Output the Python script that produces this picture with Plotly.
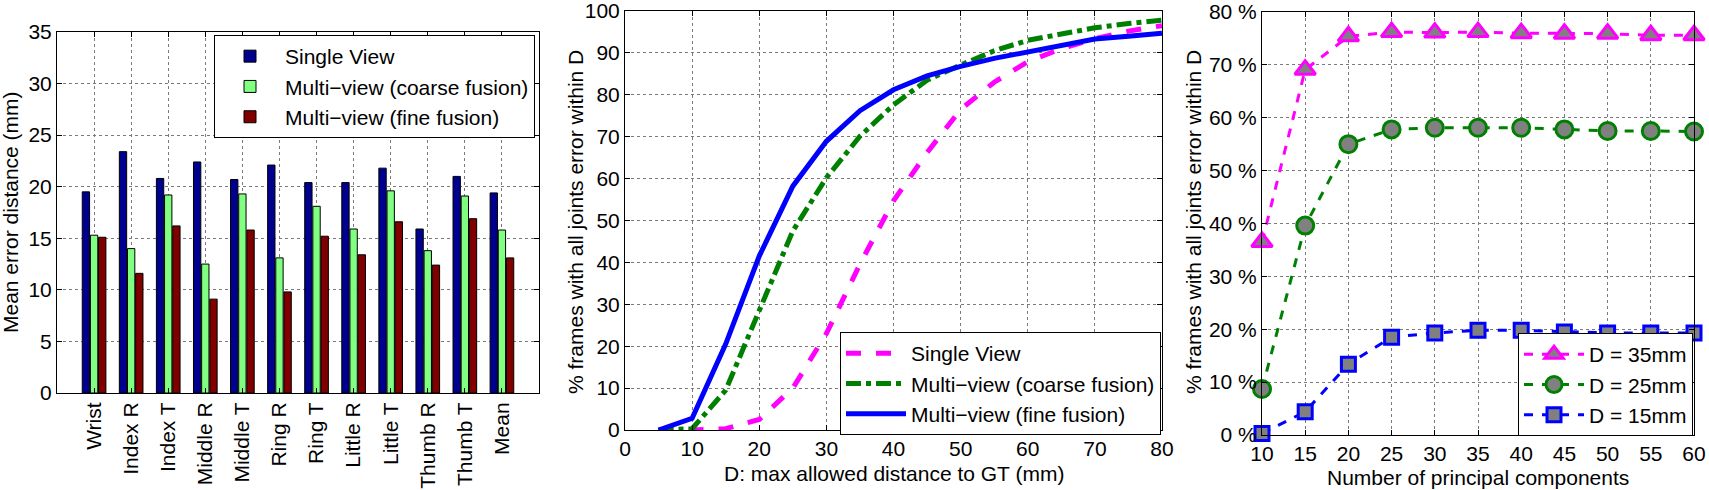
import plotly.graph_objects as go

# ---- data ----
joints = ["Wrist", "Index R", "Index T", "Middle R", "Middle T", "Ring R",
          "Ring T", "Little R", "Little T", "Thumb R", "Thumb T", "Mean"]
err_single = [19.5, 23.4, 20.8, 22.4, 20.7, 22.1, 20.4, 20.4, 21.8, 15.9, 21.0, 19.4]
err_coarse = [15.3, 14.0, 19.2, 12.5, 19.3, 13.1, 18.1, 15.9, 19.6, 13.8, 19.1, 15.8]
err_fine = [15.1, 11.6, 16.2, 9.1, 15.8, 9.8, 15.2, 13.4, 16.6, 12.4, 16.9, 13.1]

dist_mm = [5, 10, 15, 20, 25, 30, 35, 40, 45, 50, 55, 60, 65, 70, 75, 80]
pct_single = [0, 0, 0.3, 2.5, 10, 23, 39.6, 54.7, 66.2, 76.5, 83, 87.9, 91, 93.4, 95.2, 96.5]
pct_coarse = [0, 0.3, 9.5, 28.5, 47.5, 60.2, 70.1, 77.6, 83.5, 87.1, 90.5, 93.0, 94.6, 96.0, 97.0, 97.8]
pct_fine = [0, 2.8, 20.5, 41.5, 58.2, 68.9, 76.2, 81.2, 84.5, 86.8, 88.7, 90.3, 92.0, 93.3, 94.0, 94.7]

n_pcs = [10, 15, 20, 25, 30, 35, 40, 45, 50, 55, 60]
pct_d35 = [36.5, 69.1, 75.4, 76.2, 76.1, 76.2, 76.0, 75.9, 75.9, 75.6, 75.6]
pct_d25 = [8.7, 39.6, 55.0, 57.8, 58.1, 58.1, 58.1, 57.8, 57.5, 57.5, 57.4]
pct_d15 = [0.3, 4.4, 13.4, 18.5, 19.3, 19.8, 19.8, 19.5, 19.3, 19.3, 19.3]

W, H = 1709, 490
FONT = "Liberation Sans, Arial, sans-serif"
FS = 21


def px_x(p):
    return p / W


def px_y(p):
    return 1 - p / H


fig = go.Figure()

# left: bars
for name, vals, col, in [("Single View", err_single, "#00008f"),
                         ("Multi\u2212view (coarse fusion)", err_coarse, "#80ff80"),
                         ("Multi\u2212view (fine fusion)", err_fine, "#800000")]:
    fig.add_trace(go.Bar(x=list(range(1, len(joints) + 1)), y=vals, name=name,
                         marker=dict(color=col, line=dict(color="black", width=1)),
                         xaxis="x", yaxis="y", legend="legend"))

# middle: curves
fig.add_trace(go.Scatter(x=dist_mm, y=pct_single, mode="lines", name="Single View",
                         line=dict(color="#ff00ff", width=5, dash="dash"),
                         xaxis="x2", yaxis="y2", legend="legend2"))
fig.add_trace(go.Scatter(x=dist_mm, y=pct_coarse, mode="lines", name="Multi\u2212view (coarse fusion)",
                         line=dict(color="#008000", width=5, dash="dashdot"),
                         xaxis="x2", yaxis="y2", legend="legend2"))
fig.add_trace(go.Scatter(x=dist_mm, y=pct_fine, mode="lines", name="Multi\u2212view (fine fusion)",
                         line=dict(color="#0000ff", width=5),
                         xaxis="x2", yaxis="y2", legend="legend2"))

# right: markers
for name, vals, col, sym, sz in [("D = 35mm", pct_d35, "#ff00ff", "triangle-up", 18),
                                 ("D = 25mm", pct_d25, "#008000", "circle", 17),
                                 ("D = 15mm", pct_d15, "#0000ff", "square", 14)]:
    fig.add_trace(go.Scatter(x=n_pcs, y=vals, mode="lines+markers", name=name,
                             line=dict(color=col, width=3, dash="dash"),
                             marker=dict(symbol=sym, size=sz, color="#808080",
                                         line=dict(color=col, width=3)),
                             cliponaxis=False,
                             xaxis="x3", yaxis="y3", legend="legend3"))

axis_common = dict(showline=True, linecolor="black", linewidth=1, mirror="ticks",
                   ticks="inside", ticklen=5, tickcolor="black",
                   showgrid=True, gridcolor="#7a7a7a", griddash="dot", gridwidth=1,
                   zeroline=False, automargin=False, ticklabeloverflow="allow",
                   tickfont=dict(family=FONT, size=FS, color="black"))

legend_common = dict(bgcolor="white", bordercolor="black", borderwidth=1,
                     font=dict(family=FONT, size=FS, color="black"),
                     xanchor="left", yanchor="top", tracegroupgap=0, itemwidth=60)

fig.update_layout(
    width=W, height=H,
    margin=dict(l=0, r=0, t=0, b=0),
    plot_bgcolor="white", paper_bgcolor="white",
    font=dict(family=FONT, size=FS, color="black"),
    barmode="group", bargap=0.34, bargroupgap=0.1,
    showlegend=True,
    xaxis=dict(axis_common, domain=[px_x(57), px_x(539)], range=[0, 13],
               tickvals=list(range(1, len(joints) + 1)), ticktext=joints, tickangle=-90),
    yaxis=dict(axis_common, domain=[px_y(393), px_y(32)], range=[0, 35], dtick=5),
    xaxis2=dict(axis_common, domain=[px_x(625), px_x(1162)], range=[0, 80], dtick=10,
                anchor="y2"),
    yaxis2=dict(axis_common, domain=[px_y(430), px_y(11)], range=[0, 100], dtick=10,
                anchor="x2"),
    xaxis3=dict(axis_common, domain=[px_x(1262), px_x(1694)], range=[10, 60], dtick=5,
                anchor="y3"),
    yaxis3=dict(axis_common, domain=[px_y(435), px_y(12)], range=[0, 80], dtick=10,
                ticksuffix=" %", anchor="x3"),
    legend=dict(legend_common, x=px_x(214), y=px_y(35)),
    legend2=dict(legend_common, x=px_x(840), y=px_y(332)),
    legend3=dict(legend_common, x=px_x(1518), y=px_y(333)),
)

titles = [
    ("Mean error distance (mm)", 10, 212, -90),
    ("% frames with all joints error within D", 575, 222, -90),
    ("D: max allowed distance to GT (mm)", 894, 473, 0),
    ("% frames with all joints error within D", 1193, 222, -90),
    ("Number of principal components", 1478, 477, 0),
]
for text, xp, yp, ang in titles:
    fig.add_annotation(text=text, xref="paper", yref="paper", x=px_x(xp), y=px_y(yp),
                       xanchor="center", yanchor="middle", textangle=ang, showarrow=False,
                       font=dict(family=FONT, size=FS, color="black"))

# page body has a default 8px margin; drop it so the figure fills the window
fig.write_html("out.html", config={"displayModeBar": False},
               post_script="document.body.style.margin='0';")
